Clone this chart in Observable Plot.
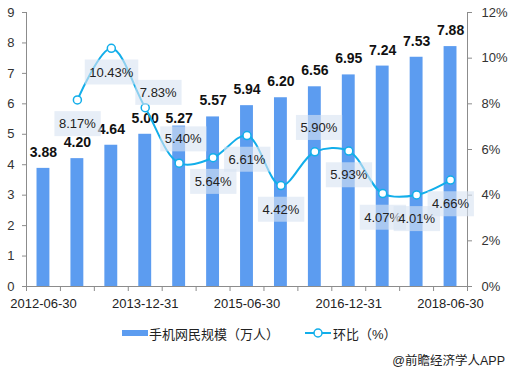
<!DOCTYPE html>
<html><head><meta charset="utf-8">
<script src="https://cdn.jsdelivr.net/npm/d3@7"></script>
<script src="https://cdn.jsdelivr.net/npm/@observablehq/plot@0.6"></script>
<style>
body{margin:0;background:#fff;font-family:"Liberation Sans",Arial,"Noto Sans CJK SC",sans-serif;}
#wrap{position:relative;width:510px;height:370px;overflow:hidden;}
#chart svg{display:block;}
.leg{position:absolute;top:324px;height:18px;display:flex;align-items:center;font-size:13px;color:#222;white-space:nowrap;}
#source{position:absolute;right:5px;top:350px;font-size:12.5px;color:#222;white-space:nowrap;}
</style></head><body>
<div id="wrap">
  <div id="chart"></div>
  <div class="leg" style="left:122px"><svg width="27" height="18"><rect x="0" y="6" width="26" height="6" fill="#5C9CF0"/></svg><span id="leg1"></span></div>
  <div class="leg" style="left:305px"><svg width="28" height="18"><line x1="0" x2="26" y1="9" y2="9" stroke="#12AEEA" stroke-width="2"/><circle cx="13" cy="9" r="4" fill="#fff" stroke="#12AEEA" stroke-width="1.5"/></svg><span id="leg2"></span></div>
  <div id="source"></div>
</div>
<script>
// ---- data ----
const dates = ["2012-06-30","2012-12-31","2013-06-30","2013-12-31","2014-06-30","2014-12-31","2015-06-30","2015-12-31","2016-06-30","2016-12-31","2017-06-30","2017-12-31","2018-06-30"];
const users = [3.88,4.20,4.64,5.00,5.27,5.57,5.94,6.20,6.56,6.95,7.24,7.53,7.88];
const growth = [null,8.17,10.43,7.83,5.40,5.64,6.61,4.42,5.90,5.93,4.07,4.01,4.66];
const leftTicks = [0,1,2,3,4,5,6,7,8,9];
const rightTicks = [0,2,4,6,8,10,12];
const dateTickLabels = ["2012-06-30","2013-12-31","2015-06-30","2016-12-31","2018-06-30"];
const seriesNames = ["手机网民规模（万人）","环比（%）"];
const sourceText = "@前瞻经济学人APP";

// ---- rendering ----
document.getElementById("leg1").textContent = seriesNames[0];
document.getElementById("leg2").textContent = seriesNames[1];
document.getElementById("source").textContent = sourceText;

const BAR = "#5C9CF0", LINE = "#12AEEA";
const FONT = '"Liberation Sans", Arial, "Noto Sans CJK SC", sans-serif';
const leftMax = leftTicks[leftTicks.length - 1], rightMax = rightTicks[rightTicks.length - 1];
const toLeft = p => p * leftMax / rightMax;
const toPct = v => v * rightMax / leftMax;
const n = dates.length;
const rows = dates.map((date, i) => ({i, date, users: users[i], growth: growth[i]}));
const pctRows = rows.filter(d => d.growth != null);
const aboveLabels = new Set(["2014-06-30", "2016-06-30"]);
const rightLabels = new Set(["2013-12-31"]);
const lowBarLabels = new Set(["2014-06-30"]);
const pctFmt = d => d.growth.toFixed(2) + "%";
const pctText = (data, dx, dy) => Plot.text(data, {
  x: "i", y: d => toLeft(d.growth), text: pctFmt, dx, dy,
  fontSize: 13, fill: "#222", ariaDescription: "pct-label"
});

const chart = Plot.plot({
  width: 510, height: 310,
  marginLeft: 26, marginRight: 43, marginTop: 12, marginBottom: 24,
  style: {fontFamily: FONT, fontSize: "13px", color: "#333", background: "transparent", overflow: "visible"},
  x: {type: "linear", domain: [-0.5, n - 0.5], axis: null},
  y: {domain: [0, leftMax], axis: null},
  marks: [
    Plot.rectY(rows, {x1: d => d.i - 0.19, x2: d => d.i + 0.19, y: "users", fill: BAR}),
    Plot.ruleX([-0.5, n - 0.5], {stroke: "#8c8c8c"}),
    Plot.ruleY([0], {stroke: "#8c8c8c"}),
    Plot.axisY({anchor: "left", ticks: leftTicks, tickSize: 4, tickPadding: 8, label: null, stroke: "#8c8c8c", fill: "#333", fontSize: 13}),
    Plot.axisY({anchor: "right", ticks: rightTicks.map(toLeft), tickFormat: v => Math.round(toPct(v)) + "%", tickSize: 4, tickPadding: 10, label: null, stroke: "#8c8c8c", fill: "#333", fontSize: 13}),
    Plot.axisX({ticks: d3.range(-0.5, n, 1), tickSize: 5, tickFormat: () => "", label: null, stroke: "#8c8c8c"}),
    Plot.axisX({ticks: dateTickLabels.map(d => dates.indexOf(d)), tickSize: 0, tickPadding: 12, tickFormat: i => dates[i], label: null, fill: "#222", fontSize: 13}),
    Plot.text(rows.filter(d => !lowBarLabels.has(d.date)), {x: "i", y: "users", text: d => d.users.toFixed(2), dy: -16, fontWeight: "bold", fontSize: 14, fill: "#111"}),
    Plot.text(rows.filter(d => lowBarLabels.has(d.date)), {x: "i", y: "users", text: d => d.users.toFixed(2), dy: -8, fontWeight: "bold", fontSize: 14, fill: "#111"}),
    Plot.line(pctRows, {x: "i", y: d => toLeft(d.growth), stroke: LINE, strokeWidth: 2, curve: "catmull-rom"}),
    Plot.dot(pctRows, {x: "i", y: d => toLeft(d.growth), r: 4, fill: "#fff", stroke: LINE, strokeWidth: 1.5}),
    pctText(pctRows.filter(d => !aboveLabels.has(d.date) && !rightLabels.has(d.date)), 0, 24),
    pctText(pctRows.filter(d => aboveLabels.has(d.date)), 4, -24),
    pctText(pctRows.filter(d => rightLabels.has(d.date)), 13, -15)
  ]
});
document.getElementById("chart").append(chart);

// label background boxes
chart.querySelectorAll('g[aria-description="pct-label"] text').forEach(t => {
  const b = t.getBBox();
  const r = document.createElementNS("http://www.w3.org/2000/svg", "rect");
  const w = b.width + 9, h = 25;
  r.setAttribute("x", b.x + b.width / 2 - w / 2);
  r.setAttribute("y", b.y + b.height / 2 - h / 2);
  r.setAttribute("width", w);
  r.setAttribute("height", h);
  r.setAttribute("fill", "#D9E3F2");
  r.setAttribute("fill-opacity", 0.62);
  const tr = t.getAttribute("transform");
  if (tr) r.setAttribute("transform", tr);
  t.parentNode.insertBefore(r, t);
});
</script>
</body></html>
